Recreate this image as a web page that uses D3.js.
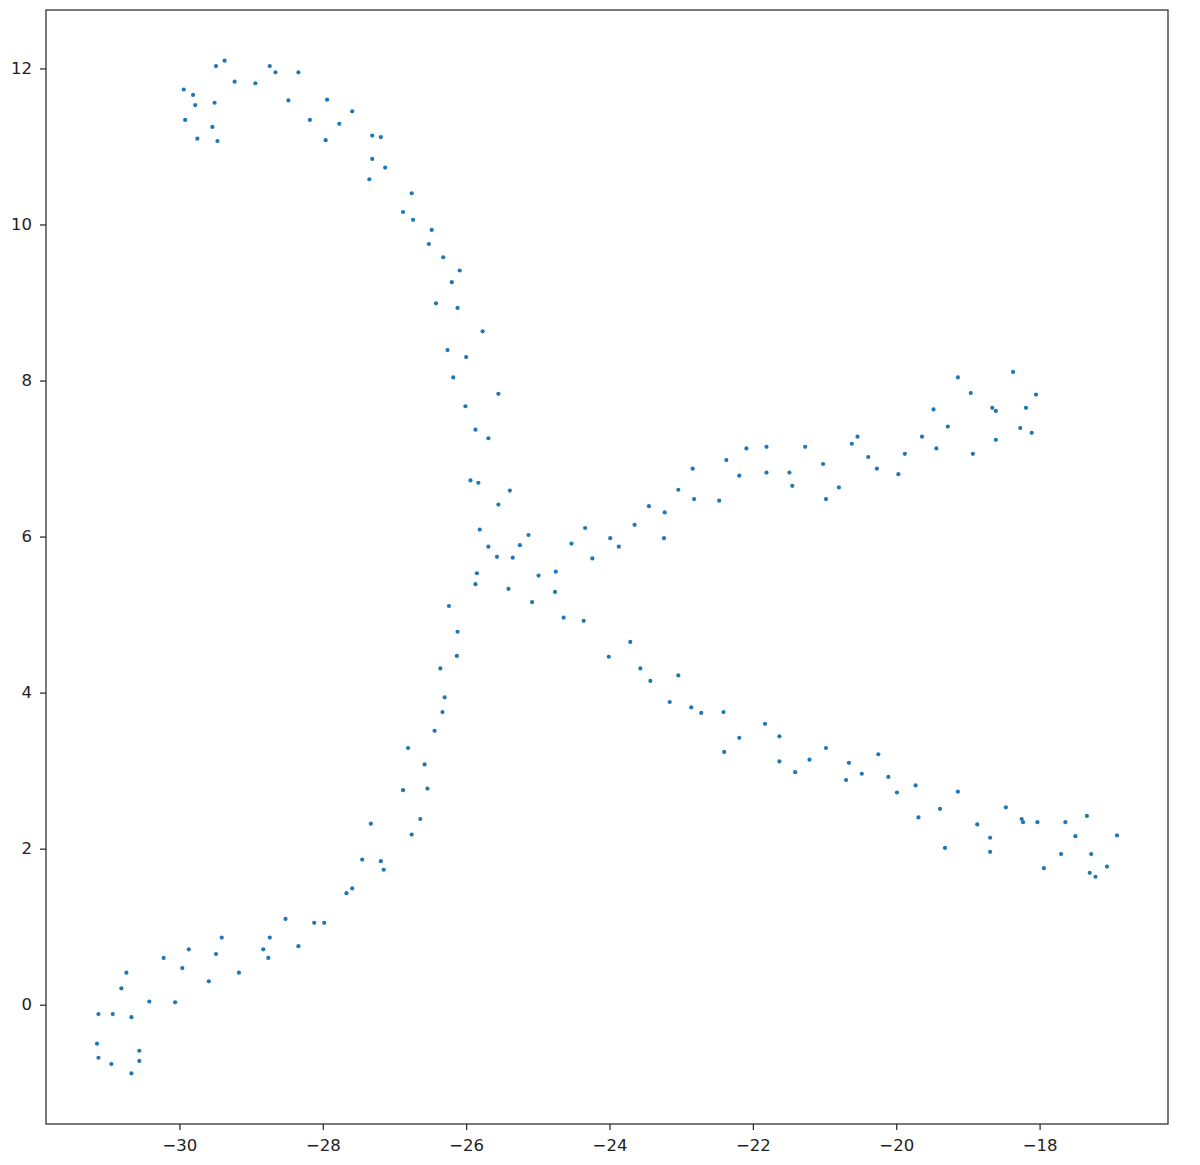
<!DOCTYPE html>
<html>
<head>
<meta charset="utf-8">
<script src="https://cdn.jsdelivr.net/npm/d3@7"></script>
<style>
  body { margin: 0; background: #fff; }
  .tick text { font-family: "DejaVu Sans", sans-serif; font-size: 16.5px; fill: #222; }
</style>
</head>
<body>
<div id="chart"></div>
<script>
// scatter points
const xs = [
  -29.49, -29.37, -29.94, -29.81, -29.78, -29.51, -29.92, -29.54, -29.75, -29.47,
  -29.23, -28.94, -28.74, -28.66, -28.34, -28.48, -28.18, -27.94, -27.96,
  -27.59, -27.77, -27.31, -27.19, -27.31, -27.13, -27.35, -26.76, -26.88, -26.74,
  -26.48, -26.52, -26.32, -26.09, -26.20,
  -26.42, -26.12, -25.77, -26.26, -26.00, -26.18, -25.55, -26.01, -25.87, -25.69,
  -25.94, -25.83, -25.39, -25.55, -25.81, -25.13, -25.69, -25.25, -25.57, -25.35,
  -24.34, -24.53, -23.99, -23.87, -24.24, -23.65, -23.45, -23.23, -23.24, -23.04,
  -22.84, -22.82, -22.47, -22.37, -22.19, -22.09, -21.81, -21.81, -21.49, -21.45,
  -21.27, -21.02, -20.98,
  -20.80, -20.62, -20.54, -20.39, -20.27, -19.97, -19.88, -19.64, -19.48, -19.44,
  -19.28, -19.14, -18.96, -18.93, -18.66, -18.61, -18.61, -18.37, -18.27, -18.19,
  -18.11, -18.05,
  -25.85, -25.87, -25.41, -24.99, -24.75, -25.08, -24.76, -24.64, -24.36,
  -26.24, -26.12, -26.13, -26.36, -26.30, -26.33,
  -24.01, -23.71, -23.57, -23.43, -23.04, -23.16, -22.86, -22.72,
  -22.41, -22.40, -22.19, -21.83, -21.63, -21.63, -21.41, -21.21, -20.98, -20.66,
  -20.70, -20.48, -20.25, -20.11, -19.99, -19.73, -19.69, -19.39, -19.32,
  -19.14, -18.87, -18.69, -18.69, -18.47, -18.25, -18.23, -18.03, -17.94, -17.70,
  -17.64, -17.50, -17.34, -17.28, -17.30, -17.22, -17.06, -16.92,
  -26.44, -26.81, -26.58, -26.88, -26.54, -26.64, -26.76, -27.33, -27.45, -27.19,
  -27.15, -27.59, -27.67,
  -27.98, -28.12, -28.52, -28.34, -28.74, -28.83, -28.76, -29.17, -29.41, -29.49,
  -29.59, -29.87, -29.96, -30.22, -30.06, -30.42, -30.74, -30.81, -31.13, -30.93,
  -30.67, -31.15, -30.56, -31.13, -30.56, -30.95, -30.67
];
const ys = [
  12.03, 12.10, 11.73, 11.66, 11.53, 11.56, 11.34, 11.25, 11.10, 11.07,
  11.83, 11.81, 12.03, 11.95, 11.95, 11.59, 11.34, 11.60, 11.08,
  11.45, 11.29, 11.14, 11.12, 10.84, 10.73, 10.58, 10.40, 10.16, 10.06,
  9.93, 9.75, 9.58, 9.41, 9.26,
  8.99, 8.93, 8.63, 8.39, 8.30, 8.04, 7.83, 7.67, 7.37, 7.26,
  6.72, 6.69, 6.59, 6.41, 6.09, 6.02, 5.87, 5.89, 5.74, 5.73,
  6.11, 5.91, 5.98, 5.87, 5.72, 6.15, 6.39, 6.31, 5.98, 6.60,
  6.87, 6.48, 6.46, 6.98, 6.78, 7.13, 7.15, 6.82, 6.82, 6.65,
  7.15, 6.93, 6.48,
  6.63, 7.19, 7.28, 7.02, 6.87, 6.80, 7.06, 7.28, 7.63, 7.13,
  7.41, 8.04, 7.84, 7.06, 7.65, 7.61, 7.24, 8.11, 7.39, 7.65,
  7.33, 7.82,
  5.53, 5.39, 5.33, 5.50, 5.55, 5.16, 5.29, 4.96, 4.92,
  5.11, 4.78, 4.47, 4.31, 3.94, 3.75,
  4.46, 4.65, 4.31, 4.15, 4.22, 3.88, 3.81, 3.74,
  3.75, 3.24, 3.42, 3.60, 3.44, 3.12, 2.98, 3.14, 3.29, 3.10,
  2.88, 2.96, 3.21, 2.92, 2.72, 2.81, 2.40, 2.51, 2.01,
  2.73, 2.31, 2.14, 1.96, 2.53, 2.38, 2.34, 2.34, 1.75, 1.93,
  2.34, 2.16, 2.42, 1.93, 1.69, 1.64, 1.77, 2.17,
  3.51, 3.29, 3.08, 2.75, 2.77, 2.38, 2.18, 2.32, 1.86, 1.84,
  1.73, 1.49, 1.43,
  1.05, 1.05, 1.10, 0.75, 0.86, 0.71, 0.60, 0.41, 0.86, 0.65,
  0.30, 0.71, 0.47, 0.60, 0.03, 0.04, 0.41, 0.21, -0.12, -0.12,
  -0.16, -0.50, -0.59, -0.68, -0.72, -0.76, -0.88
];
const xTicks = [-30, -28, -26, -24, -22, -20, -18];
const yTicks = [0, 2, 4, 6, 8, 10, 12];

const points = xs.map((x, i) => ({x: x, y: ys[i]}));

const svgWidth = 1200, svgHeight = 1165;
const margin = {top: 10, left: 46, right: 32, bottom: 41};
const plotW = svgWidth - margin.left - margin.right;
const plotH = svgHeight - margin.top - margin.bottom;

const svg = d3.select("#chart").append("svg")
  .attr("width", svgWidth)
  .attr("height", svgHeight);

const g = svg.append("g")
  .attr("transform", "translate(" + margin.left + "," + margin.top + ")");

// matplotlib style 5% margins around the data
function padded(ext) {
  const p = (ext[1] - ext[0]) * 0.05;
  return [ext[0] - p, ext[1] + p];
}

const xScale = d3.scaleLinear()
  .domain(padded(d3.extent(xs)))
  .range([0, plotW]);
const yScale = d3.scaleLinear()
  .domain(padded(d3.extent(ys)))
  .range([plotH, 0]);

const xAxis = d3.axisBottom(xScale).tickValues(xTicks).tickSize(6).tickPadding(9).tickSizeOuter(0);
const yAxis = d3.axisLeft(yScale).tickValues(yTicks).tickSize(6).tickPadding(8).tickSizeOuter(0);

g.append("g")
  .attr("transform", "translate(0," + plotH + ")")
  .call(xAxis)
  .call(a => a.select(".domain").remove());
g.append("g")
  .call(yAxis)
  .call(a => a.select(".domain").remove());

g.selectAll(".tick line").attr("stroke", "#222").attr("stroke-width", 1.2);

g.append("g").selectAll("circle")
  .data(points)
  .join("circle")
  .attr("cx", d => xScale(d.x))
  .attr("cy", d => yScale(d.y))
  .attr("r", 2.1)
  .attr("fill", "#1f77b4");

// frame
g.append("rect")
  .attr("x", 0).attr("y", 0)
  .attr("width", plotW).attr("height", plotH)
  .attr("fill", "none")
  .attr("stroke", "#222")
  .attr("stroke-width", 1.2);
</script>
</body>
</html>
